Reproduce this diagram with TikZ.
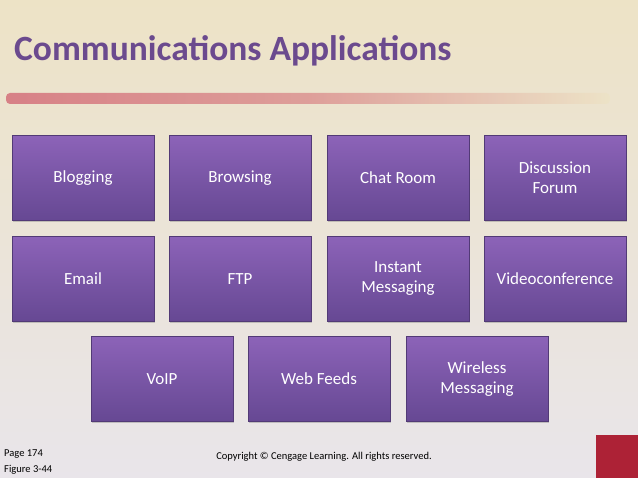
\documentclass[tikz,border=0pt]{standalone}
\usepackage{fontspec}
\setmainfont{Carlito}
\usetikzlibrary{shadows}
\definecolor{bgtop}{HTML}{EDE3C6}
\definecolor{bgbot}{HTML}{E9E5EA}
\definecolor{titlec}{HTML}{6B4A8E}
\definecolor{boxtop}{HTML}{8C63B8}
\definecolor{boxbot}{HTML}{664893}
\definecolor{barc}{HTML}{D4707A}
\definecolor{redsq}{HTML}{AD2236}
\tikzset{
  app/.style={minimum width=142pt, minimum height=85pt, top color=boxtop, bottom color=boxbot,
    draw=boxbot!80!black, line width=0.4pt, text=white, font=\fontsize{17}{20}\selectfont,
    align=center, drop shadow={shadow xshift=1pt, shadow yshift=-1.5pt, opacity=0.4}},
  foot/.style={font=\fontsize{10.5}{12}\selectfont, text=black, inner sep=0pt}
}
\begin{document}
\begin{tikzpicture}[x=1pt,y=-1pt]
\useasboundingbox (0,0) rectangle (638,478);
\shade[top color=bgtop, bottom color=bgbot] (0,0) rectangle (638,478);
\node[anchor=west, text=titlec, font=\bfseries\fontsize{35.5}{40}\selectfont, inner sep=0pt] (title) at (14,51) {Communications Applications};
\shade[left color=barc, right color=bgtop, middle color=barc!70!bgtop, rounded corners=4pt, opacity=0.85] (6,93) rectangle (610,104);
\node[app] (b1) at (83,178) {Blogging};
\node[app] (b2) at (240,178) {Browsing};
\node[app] (b3) at (398,178) {Chat Room};
\node[app] (b4) at (555,178) {Discussion\\Forum};
\node[app] (b5) at (83,279) {Email};
\node[app] (b6) at (240,279) {FTP};
\node[app] (b7) at (398,279) {Instant\\Messaging};
\node[app] (b8) at (555,279) {Videoconference};
\node[app] (b9) at (162,379) {VoIP};
\node[app] (b10) at (319,379) {Web Feeds};
\node[app] (b11) at (477,379) {Wireless\\Messaging};
\node[foot, anchor=west] (pg) at (4,454) {Page 174};
\node[foot, anchor=west] (fig) at (4,470) {Figure 3-44};
\node[foot] (copy) at (324,457) {Copyright © Cengage Learning. All rights reserved.};
\fill[redsq] (596,435) rectangle (638,478);
\end{tikzpicture}
\end{document}
